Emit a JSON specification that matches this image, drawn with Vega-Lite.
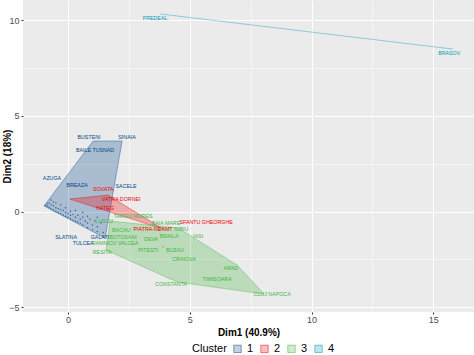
{
  "$schema": "https://vega.github.io/schema/vega-lite/v6.json",
  "autosize": "none",
  "width": 451,
  "height": 312,
  "padding": {"left": 23, "top": 0, "right": 0, "bottom": 43},
  "background": "white",
  "config": {
    "view": {"fill": "#EBEBEB", "stroke": null},
    "font": "Liberation Sans",
    "axis": {
      "domain": false,
      "gridColor": "white",
      "tickColor": "#333333",
      "tickSize": 2,
      "labelColor": "#4D4D4D",
      "labelFontSize": 9,
      "labelFont": "Liberation Sans",
      "titleFont": "Liberation Sans",
      "titleFontSize": 10,
      "titleFontWeight": "bold",
      "titleColor": "black"
    }
  },
  "datasets": {
    "hulls": [
      {"cluster": "1", "o": 1, "x": -0.99, "y": 0.29},
      {"cluster": "1", "o": 2, "x": 1.03, "y": 3.69},
      {"cluster": "1", "o": 3, "x": 2.22, "y": 3.69},
      {"cluster": "1", "o": 4, "x": 1.52, "y": -1.39},
      {"cluster": "1", "o": 5, "x": -0.99, "y": 0.29},
      {"cluster": "2", "o": 1, "x": 0.08, "y": 0.65},
      {"cluster": "2", "o": 2, "x": 1.64, "y": 0.86},
      {"cluster": "2", "o": 3, "x": 3.9, "y": -0.92},
      {"cluster": "2", "o": 4, "x": 0.08, "y": 0.65},
      {"cluster": "3", "o": 1, "x": 1.72, "y": -0.5},
      {"cluster": "3", "o": 2, "x": 4.52, "y": -0.86},
      {"cluster": "3", "o": 3, "x": 6.94, "y": -2.8},
      {"cluster": "3", "o": 4, "x": 8.05, "y": -4.32},
      {"cluster": "3", "o": 5, "x": 4.48, "y": -3.69},
      {"cluster": "3", "o": 6, "x": 1.56, "y": -2.02},
      {"cluster": "3", "o": 7, "x": 1.72, "y": -0.5},
      {"cluster": "4", "o": 1, "x": 3.78, "y": 10.34},
      {"cluster": "4", "o": 2, "x": 15.81, "y": 8.5}
    ],
    "dots": [
      {"cluster": "1", "x": -0.92, "y": 0.31},
      {"cluster": "1", "x": -0.85, "y": 0.28},
      {"cluster": "1", "x": -0.85, "y": 0.4},
      {"cluster": "1", "x": -0.78, "y": 0.22},
      {"cluster": "1", "x": -0.78, "y": 0.45},
      {"cluster": "1", "x": -0.7, "y": 0.15},
      {"cluster": "1", "x": -0.7, "y": 0.35},
      {"cluster": "1", "x": -0.7, "y": 0.6},
      {"cluster": "1", "x": -0.6, "y": 0.08},
      {"cluster": "1", "x": -0.6, "y": 0.3},
      {"cluster": "1", "x": -0.6, "y": 0.5},
      {"cluster": "1", "x": -0.5, "y": 0.0},
      {"cluster": "1", "x": -0.5, "y": 0.2},
      {"cluster": "1", "x": -0.5, "y": 0.45},
      {"cluster": "1", "x": -0.4, "y": -0.05},
      {"cluster": "1", "x": -0.4, "y": 0.15},
      {"cluster": "1", "x": -0.3, "y": -0.1},
      {"cluster": "1", "x": -0.3, "y": 0.1},
      {"cluster": "1", "x": -0.3, "y": 0.35},
      {"cluster": "1", "x": -0.2, "y": -0.18},
      {"cluster": "1", "x": -0.2, "y": 0.05},
      {"cluster": "1", "x": -0.1, "y": -0.25},
      {"cluster": "1", "x": -0.1, "y": -0.05},
      {"cluster": "1", "x": -0.1, "y": 0.2},
      {"cluster": "1", "x": 0.0, "y": -0.3},
      {"cluster": "1", "x": 0.0, "y": -0.1},
      {"cluster": "1", "x": 0.1, "y": -0.38},
      {"cluster": "1", "x": 0.1, "y": 0.0},
      {"cluster": "1", "x": 0.1, "y": -0.2},
      {"cluster": "1", "x": 0.2, "y": -0.45},
      {"cluster": "1", "x": 0.2, "y": -0.15},
      {"cluster": "1", "x": 0.3, "y": -0.5},
      {"cluster": "1", "x": 0.3, "y": -0.3},
      {"cluster": "1", "x": 0.3, "y": 0.05},
      {"cluster": "1", "x": 0.4, "y": -0.55},
      {"cluster": "1", "x": 0.4, "y": -0.2},
      {"cluster": "1", "x": 0.5, "y": -0.62},
      {"cluster": "1", "x": 0.5, "y": -0.4},
      {"cluster": "1", "x": 0.6, "y": -0.7},
      {"cluster": "1", "x": 0.6, "y": -0.3},
      {"cluster": "1", "x": 0.6, "y": -0.05},
      {"cluster": "1", "x": 0.7, "y": -0.5},
      {"cluster": "1", "x": 0.8, "y": -0.85},
      {"cluster": "1", "x": 0.8, "y": -0.6},
      {"cluster": "1", "x": 0.8, "y": -0.25},
      {"cluster": "1", "x": 0.9, "y": -0.4},
      {"cluster": "1", "x": 1.0, "y": -0.95},
      {"cluster": "1", "x": 1.0, "y": -0.7},
      {"cluster": "1", "x": 1.1, "y": -0.5},
      {"cluster": "1", "x": 1.2, "y": -1.05},
      {"cluster": "1", "x": 1.2, "y": -0.8},
      {"cluster": "1", "x": 1.2, "y": -0.3},
      {"cluster": "1", "x": 1.35, "y": -0.6},
      {"cluster": "1", "x": 1.45, "y": -1.1},
      {"cluster": "3", "x": 3.9, "y": -1.86}
    ],
    "cities": [
      {"name": "BUSTENI", "cluster": "1", "x": 0.86, "y": 3.9},
      {"name": "SINAIA", "cluster": "1", "x": 2.42, "y": 3.9},
      {"name": "BAILE TUSNAD", "cluster": "1", "x": 1.11, "y": 3.22},
      {"name": "AZUGA", "cluster": "1", "x": -0.66, "y": 1.75},
      {"name": "BREAZA", "cluster": "1", "x": 0.37, "y": 1.39},
      {"name": "SACELE", "cluster": "1", "x": 2.38, "y": 1.33},
      {"name": "SLATINA", "cluster": "1", "x": -0.08, "y": -1.34},
      {"name": "GALATI", "cluster": "1", "x": 1.31, "y": -1.34},
      {"name": "TULCEA", "cluster": "1", "x": 0.62, "y": -1.65},
      {"name": "SOVATA", "cluster": "2", "x": 1.44, "y": 1.18},
      {"name": "VATRA DORNEI", "cluster": "2", "x": 2.18, "y": 0.65},
      {"name": "HATEG", "cluster": "2", "x": 1.52, "y": 0.18},
      {"name": "PIATRA-NEAMT", "cluster": "2", "x": 3.49, "y": -0.92},
      {"name": "SFANTU GHEORGHE", "cluster": "2", "x": 5.67, "y": -0.55},
      {"name": "LUGOJ", "cluster": "3", "x": 1.48, "y": -0.5},
      {"name": "TARGU MURES", "cluster": "3", "x": 2.67, "y": -0.24},
      {"name": "BAIA MARE", "cluster": "3", "x": 4.02, "y": -0.6},
      {"name": "SIBIU", "cluster": "3", "x": 4.64, "y": -0.92},
      {"name": "BACAU", "cluster": "3", "x": 2.18, "y": -0.97},
      {"name": "BOTOSANI", "cluster": "3", "x": 2.26, "y": -1.34},
      {"name": "DEVA", "cluster": "3", "x": 3.41, "y": -1.44},
      {"name": "BRAILA", "cluster": "3", "x": 4.15, "y": -1.28},
      {"name": "IASI", "cluster": "3", "x": 5.34, "y": -1.28},
      {"name": "RAMNICU VALCEA", "cluster": "3", "x": 1.93, "y": -1.65},
      {"name": "PITESTI", "cluster": "3", "x": 3.29, "y": -2.02},
      {"name": "BUZAU", "cluster": "3", "x": 4.39, "y": -2.02},
      {"name": "RESITA", "cluster": "3", "x": 1.4, "y": -2.12},
      {"name": "CRAIOVA", "cluster": "3", "x": 4.76, "y": -2.49},
      {"name": "ARAD", "cluster": "3", "x": 6.69, "y": -2.96},
      {"name": "TIMISOARA", "cluster": "3", "x": 6.12, "y": -3.53},
      {"name": "CONSTANTA", "cluster": "3", "x": 4.23, "y": -3.8},
      {"name": "CLUJ NAPOCA", "cluster": "3", "x": 8.38, "y": -4.32},
      {"name": "PREDEAL", "cluster": "4", "x": 3.57, "y": 10.13},
      {"name": "BRASOV", "cluster": "4", "x": 15.65, "y": 8.3}
    ]
  },
  "encoding": {
    "x": {
      "field": "x",
      "type": "quantitative",
      "title": "Dim1 (40.9%)",
      "scale": {"domain": [-1.85, 16.67], "nice": false, "zero": false},
      "axis": {
        "values": [0, 2.5, 5, 7.5, 10, 12.5, 15],
        "labelExpr": "datum.value % 5 == 0 ? datum.label : ''",
        "gridWidth": {"condition": {"test": "datum.value % 5 != 0", "value": 0.5}, "value": 1},
        "tickOpacity": {"condition": {"test": "datum.value % 5 != 0", "value": 0}, "value": 1},
        "labelPadding": 1,
        "titlePadding": 3,
        "labelFlush": false
      }
    },
    "y": {
      "field": "y",
      "type": "quantitative",
      "title": "Dim2 (18%)",
      "scale": {"domain": [-5.26, 11.07], "nice": false, "zero": false},
      "axis": {
        "values": [-5, -2.5, 0, 2.5, 5, 7.5, 10],
        "labelExpr": "datum.value % 5 == 0 ? replace(datum.label, '-', '\u2212') : ''",
        "gridWidth": {"condition": {"test": "datum.value % 5 != 0", "value": 0.5}, "value": 1},
        "tickOpacity": {"condition": {"test": "datum.value % 5 != 0", "value": 0}, "value": 1},
        "labelPadding": 2,
        "titleX": -16,
        "titleY": 156,
        "titleAngle": -90,
        "titleAlign": "center",
        "titleBaseline": "middle",
        "labelFlush": false
      }
    },
    "color": {
      "field": "cluster",
      "type": "nominal",
      "title": "Cluster",
      "scale": {"domain": ["1", "2", "3", "4"], "range": ["#00468B", "#ED0000", "#42B540", "#0099B4"]},
      "legend": {
        "orient": "none",
        "legendX": 169,
        "legendY": 343,
        "direction": "horizontal",
        "titleOrient": "left",
        "titleFontSize": 11,
        "titleFontWeight": "normal",
        "titleColor": "black",
        "titlePadding": 5,
        "labelFontSize": 11,
        "labelColor": "black",
        "labelOffset": 4,
        "columnPadding": 4,
        "symbolType": "square",
        "symbolSize": 55,
        "symbolStrokeWidth": 1,
        "encode": {
          "symbols": {
            "update": {
              "fill": {"scale": "color", "field": "value"},
              "fillOpacity": {"value": 0.25},
              "stroke": {"scale": "color", "field": "value"},
              "strokeOpacity": {"value": 0.5}
            }
          }
        }
      }
    }
  },
  "layer": [
    {
      "data": {"name": "hulls"},
      "mark": {"type": "line", "strokeWidth": 0.5, "strokeOpacity": 0.8, "fillOpacity": 0.28},
      "encoding": {
        "order": {"field": "o", "type": "quantitative"},
        "fill": {
          "field": "cluster",
          "type": "nominal",
          "scale": {"domain": ["1", "2", "3", "4"], "range": ["#00468B", "#ED0000", "#42B540", "#0099B4"]},
          "legend": null
        }
      }
    },
    {
      "data": {"name": "dots"},
      "mark": {"type": "circle", "size": 2, "opacity": 0.8},
      "encoding": {}
    },
    {
      "data": {"name": "cities"},
      "mark": {"type": "text", "fontSize": 5.3, "font": "Liberation Sans", "baseline": "middle"},
      "encoding": {"text": {"field": "name"}}
    }
  ]
}
